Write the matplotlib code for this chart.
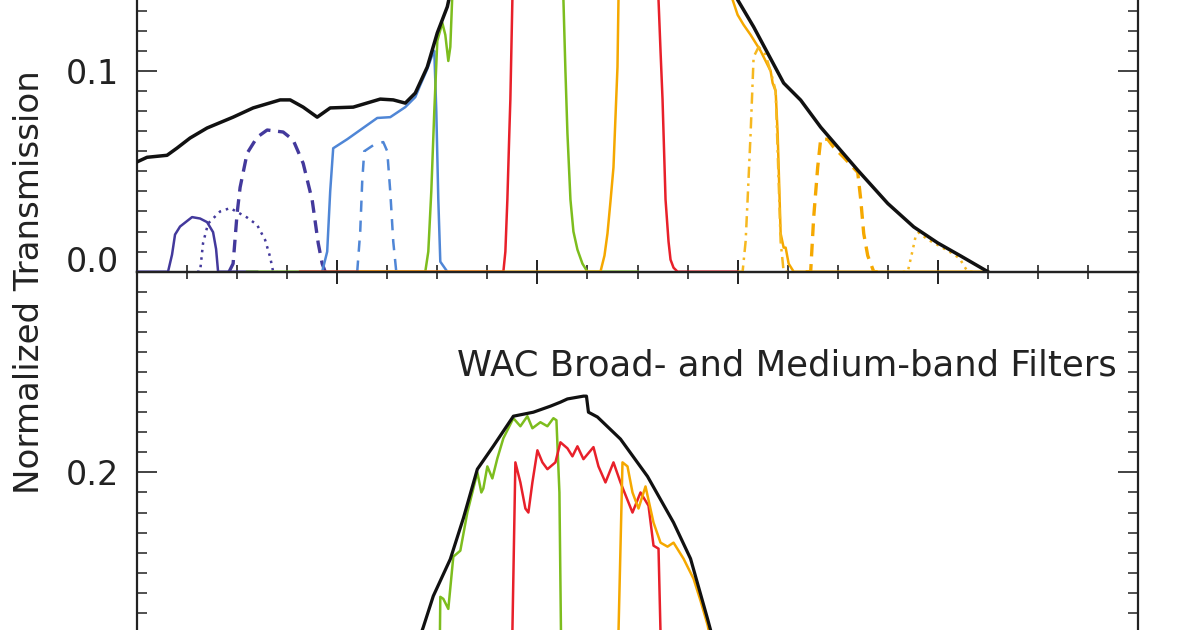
import matplotlib
matplotlib.use("Agg")
import matplotlib.pyplot as plt
from matplotlib.ticker import MultipleLocator, FuncFormatter

# ---------------- data (wavelength in nm, normalized transmission) ----------------
# Top panel: NAC filters
nac_sys_wl = [200, 210, 230, 240, 253, 270, 296, 316, 343, 353, 366, 380, 393, 416, 443, 456, 468, 478,
              490, 500, 510, 520, 540, 580, 620, 660, 700, 740, 770, 790, 800, 816, 846, 863, 883, 920,
              950, 976, 1000, 1023, 1050]
nac_sys_tr = [0.0547, 0.057, 0.058, 0.0616, 0.0666, 0.0716, 0.077, 0.0816, 0.0856, 0.0856, 0.082, 0.077,
              0.0816, 0.082, 0.086, 0.0856, 0.084, 0.089, 0.102, 0.119, 0.132, 0.155, 0.19, 0.24, 0.27,
              0.28, 0.27, 0.23, 0.185, 0.152, 0.1355, 0.122, 0.094, 0.0855, 0.072, 0.0506, 0.034, 0.0223,
              0.0143, 0.0078, 0.0]

uv1_wl = [200, 231, 235, 238, 243, 255, 263, 270, 276, 279, 281, 320]
uv1_tr = [0, 0, 0.0085, 0.0185, 0.0225, 0.0272, 0.0265, 0.0247, 0.0197, 0.0113, 0, 0]

uv2_wl = [260, 263, 266, 271, 283, 293, 310, 320, 328, 333, 336, 340]
uv2_tr = [0, 0, 0.0143, 0.024, 0.030, 0.0317, 0.027, 0.0233, 0.0158, 0.0073, 0, 0]

uv3_wl = [292, 296, 300, 303, 310, 320, 330, 346, 356, 366, 375, 381, 385, 388]
uv3_tr = [0, 0.004, 0.029, 0.042, 0.059, 0.067, 0.0706, 0.0696, 0.0656, 0.054, 0.0357, 0.0143, 0.004, 0]

bl1_wl = [385, 390, 393, 396, 410, 423, 440, 453, 468, 478, 483, 490, 495, 497, 499, 501, 503, 510]
bl1_tr = [0, 0.01, 0.04, 0.0615, 0.066, 0.0706, 0.0766, 0.077, 0.082, 0.087, 0.093, 0.101, 0.108, 0.11,
          0.08, 0.036, 0.005, 0]

bl2_wl = [420, 423, 425, 427, 436, 446, 450, 453, 456, 459]
bl2_tr = [0, 0.02, 0.045, 0.06, 0.063, 0.0646, 0.06, 0.04, 0.015, 0]

grn_wl = [310, 488, 491, 494, 497, 500, 505, 508, 511, 513, 515, 520, 530, 560, 600, 620, 626, 628, 630,
          633, 636, 640, 645, 650, 700]
grn_tr = [0, 0, 0.01, 0.04, 0.08, 0.115, 0.124, 0.118, 0.105, 0.112, 0.138, 0.15, 0.17, 0.2, 0.21, 0.19,
          0.1355, 0.1, 0.069, 0.036, 0.02, 0.011, 0.004, 0, 0]

red_wl = [363, 566, 568, 570, 572, 573, 575, 580, 590, 650, 700, 715, 721, 723, 725, 728, 731, 733, 736,
          740, 800]
red_tr = [0, 0, 0.01, 0.036, 0.07, 0.086, 0.1355, 0.17, 0.21, 0.24, 0.22, 0.18, 0.1355, 0.11, 0.086,
          0.036, 0.015, 0.006, 0.002, 0, 0]

ir1_wl = [423, 663, 667, 670, 673, 676, 680, 681, 690, 720, 760, 790, 800, 806, 813, 823, 833, 835, 838,
          840, 843, 846, 848, 851, 856, 1050]
ir1_tr = [0, 0, 0.008, 0.019, 0.035, 0.052, 0.102, 0.1355, 0.17, 0.21, 0.2, 0.143, 0.128, 0.123, 0.118,
          0.11, 0.100, 0.094, 0.090, 0.069, 0.019, 0.012, 0.012, 0.004, 0, 0]

ir2_wl = [800, 805, 808, 810, 813, 816, 821, 828, 834, 838, 840, 843, 846, 850]
ir2_tr = [0, 0, 0.015, 0.036, 0.069, 0.107, 0.112, 0.108, 0.098, 0.09, 0.06, 0.015, 0, 0]

ir3_wl = [868, 873, 876, 880, 883, 890, 896, 906, 920, 923, 926, 930, 933, 936, 940]
ir3_tr = [0, 0, 0.027, 0.052, 0.066, 0.066, 0.062, 0.057, 0.0495, 0.036, 0.019, 0.008, 0.004, 0, 0]

ir4_wl = [965, 970, 975, 978, 981, 990, 1000, 1015, 1022, 1026, 1030, 1035]
ir4_tr = [0, 0, 0.011, 0.018, 0.0195, 0.016, 0.0133, 0.009, 0.0065, 0.003, 0, 0]

# Bottom panel: WAC broad- and medium-band filters
wac_sys_wl = [380, 420, 450, 470, 486, 496, 513, 526, 540, 556, 576, 596, 613, 623, 630, 646, 649, 651,
              660, 683, 710, 736, 753, 770, 790, 850, 950, 1050]
wac_sys_tr = [0.0, 0.03, 0.07, 0.1, 0.1229, 0.1384, 0.1568, 0.1771, 0.2016, 0.2131, 0.228, 0.230, 0.233,
              0.235, 0.2366, 0.238, 0.238, 0.230, 0.2276, 0.2166, 0.198, 0.175, 0.157, 0.127, 0.09, 0.04,
              0.008, 0.0]

wgrn_wl = [495, 500, 502, 503, 506, 511, 516, 523, 530, 540, 544, 546, 550, 555, 560, 566, 576, 583, 590,
           595, 603, 610, 616, 619, 622, 624, 626, 628]
wgrn_tr = [0, 0.02, 0.09, 0.138, 0.137, 0.132, 0.158, 0.161, 0.180, 0.200, 0.19, 0.192, 0.203, 0.197,
           0.207, 0.217, 0.227, 0.223, 0.228, 0.222, 0.225, 0.223, 0.227, 0.226, 0.19, 0.1, 0.03, 0]

wred_wl = [570, 573, 575, 578, 583, 588, 591, 595, 600, 605, 610, 618, 623, 630, 635, 640, 646, 656, 661,
           668, 676, 683, 695, 703, 711, 716, 721, 723, 725, 728]
wred_tr = [0, 0.05, 0.12, 0.205, 0.195, 0.182, 0.180, 0.195, 0.211, 0.205, 0.2016, 0.205, 0.215, 0.212,
           0.208, 0.213, 0.2066, 0.2126, 0.203, 0.195, 0.205, 0.195, 0.180, 0.190, 0.1834, 0.1635, 0.162,
           0.12, 0.05, 0]

wir_wl = [676, 679, 681, 685, 690, 695, 701, 708, 716, 723, 730, 736, 746, 756, 763, 770, 780, 800]
wir_tr = [0, 0.05, 0.12, 0.205, 0.203, 0.19, 0.182, 0.193, 0.175, 0.165, 0.163, 0.165, 0.157, 0.147,
          0.136, 0.124, 0.1, 0.0]

# y tick labels shown in the visible part of each panel
top_labels = {0.0: "0.0", 0.1: "0.1"}
bottom_labels = {0.2: "0.2"}

y_label = "Normalized Transmission"
wac_title = "WAC Broad- and Medium-band Filters"

# ---------------- styles ----------------
NAVY = "#43399c"
BLUE = "#4f86d6"
GREEN = "#7dbd1e"
RED = "#e8202a"
ORANGE = "#f5a800"
ORANGE_L = "#f6b820"
BLACK = "#111111"
AXC = "#222222"

W, H = 1200, 630
fig = plt.figure(figsize=(W / 100, H / 100), dpi=100)
fig.patch.set_facecolor("white")

x0, x1 = 137, 1138
yb = 271.7          # shared boundary (pixels from top)
ppu = 2007.0        # pixels per unit transmission

ax1 = fig.add_axes([x0 / W, (H - yb) / H, (x1 - x0) / W, 0.2 * ppu / H])
ax2 = fig.add_axes([x0 / W, (H - yb - 0.3 * ppu) / H, (x1 - x0) / W, 0.3 * ppu / H])
ax1.set_ylim(0, 0.2)
ax2.set_ylim(0, 0.3)

LW = 1.8
LWD = 2.4
# top panel filters
ax1.plot(uv1_wl, uv1_tr, color=NAVY, lw=LW, zorder=3)
ax1.plot(uv2_wl, uv2_tr, color=NAVY, lw=LW, ls=(0, (1, 2.0)), zorder=3)
ax1.plot(uv3_wl, uv3_tr, color=NAVY, lw=LWD, ls=(0, (3.8, 2.3)), zorder=3)
ax1.plot(bl1_wl, bl1_tr, color=BLUE, lw=LW, zorder=3)
ax1.plot(bl2_wl, bl2_tr, color=BLUE, lw=LW, ls=(0, (4.5, 3.5)), zorder=3)
ax1.plot(grn_wl, grn_tr, color=GREEN, lw=LW, zorder=3)
ax1.plot(red_wl, red_tr, color=RED, lw=LW, zorder=3)
ax1.plot(ir1_wl, ir1_tr, color=ORANGE, lw=LW, zorder=3)
ax1.plot(ir2_wl, ir2_tr, color=ORANGE_L, lw=LW, ls=(0, (4.5, 2.2, 1, 2.2)), zorder=3)
ax1.plot(ir3_wl, ir3_tr, color=ORANGE, lw=LWD, ls=(0, (3.8, 2.3)), zorder=3)
ax1.plot(ir4_wl, ir4_tr, color=ORANGE_L, lw=LW, ls=(0, (1, 2.0)), zorder=3)
ax1.plot(nac_sys_wl, nac_sys_tr, color=BLACK, lw=2.5, zorder=4)

# bottom panel filters
ax2.plot(wgrn_wl, wgrn_tr, color=GREEN, lw=LW, zorder=3)
ax2.plot(wred_wl, wred_tr, color=RED, lw=LW, zorder=3)
ax2.plot(wir_wl, wir_tr, color=ORANGE, lw=LW, zorder=3)
ax2.plot(wac_sys_wl, wac_sys_tr, color=BLACK, lw=2.3, zorder=4)


def make_fmt(labels):
    def f(v, p):
        for k, s in labels.items():
            if abs(v - k) < 1e-6:
                return s
        return ""
    return FuncFormatter(f)


for ax, labels in ((ax1, top_labels), (ax2, bottom_labels)):
    ax.set_xlim(200, 1200)
    ax.set_facecolor("none")
    ax.xaxis.set_major_locator(MultipleLocator(200))
    ax.xaxis.set_minor_locator(MultipleLocator(50))
    ax.yaxis.set_major_locator(MultipleLocator(0.1))
    ax.yaxis.set_minor_locator(MultipleLocator(0.01))
    ax.yaxis.set_major_formatter(make_fmt(labels))
    ax.tick_params(axis="y", which="major", direction="in", left=True, right=True,
                   length=14.4, width=1.2, labelsize=24, pad=13, colors=AXC)
    ax.tick_params(axis="y", which="minor", direction="in", left=True, right=True,
                   length=7.2, width=1.1, colors=AXC)
    ax.tick_params(axis="x", which="major", direction="in", top=True, bottom=True,
                   length=8.6, width=1.4, labelbottom=False, colors=AXC)
    ax.tick_params(axis="x", which="minor", direction="in", top=True, bottom=True,
                   length=5.0, width=1.2, colors=AXC)
    for s in ax.spines.values():
        s.set_linewidth(1.6)
        s.set_color(AXC)

fig.canvas.draw()
for t in ax1.yaxis.get_major_ticks():
    if abs(t.get_loc()) < 1e-9:
        t.label1.set_verticalalignment("baseline")

fig.text(30 / W, 1 - 282 / H, y_label, rotation=90, ha="center", va="center",
         fontsize=24.5, color=AXC)
ax2.text(1117 / W, 1 - 375 / H, wac_title, transform=fig.transFigure, ha="right",
         va="baseline", fontsize=25.5, color=AXC)

fig.savefig("out.png", dpi=100, facecolor="white")
